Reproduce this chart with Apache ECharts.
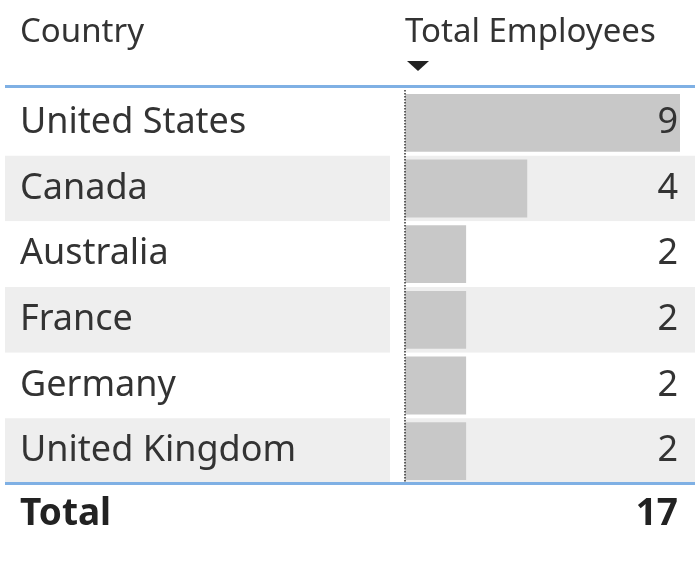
<!DOCTYPE html><html><head><meta charset="utf-8">
<script src="https://cdn.jsdelivr.net/npm/echarts@6/dist/echarts.min.js"></script>
<style>html,body{margin:0;background:#fff}#c{width:700px;height:568px}</style></head><body><div id="c"></div>
<script>
const countries=['United States','Canada','Australia','France','Germany','United Kingdom'];
const employees=[9,4,2,2,2,2];
const totalLabel='Total';
const totalValue=17;
const headers=['Country','Total Employees'];
const F='"Noto Sans","Open Sans",sans-serif';
const chart=echarts.init(document.getElementById('c'));
const unit=275/9;
chart.setOption({
 animation:false,
 grid:{left:5,right:5,top:90,height:394},
 xAxis:{type:'value',min:-400/unit,max:290/unit,show:false},
 yAxis:[
  {type:'category',data:countries,inverse:true,axisLine:{show:false},axisTick:{show:false},
   axisLabel:{inside:true,margin:15,align:'left',fontSize:36,color:'#333',fontFamily:F},
   splitArea:{show:true,areaStyle:{color:['#ffffff','#eeeeee']}}},
  {type:'category',data:employees.map(String),inverse:true,position:'right',z:10,axisLine:{show:false},axisTick:{show:false},
   axisLabel:{inside:true,margin:17,align:'right',fontSize:36,color:'#333',fontFamily:F}}
 ],
 series:[{type:'bar',data:employees,barWidth:'88%',itemStyle:{color:'#c8c8c8'},z:3,
  markLine:{silent:true,symbol:'none',label:{show:false},lineStyle:{type:'dotted',color:'#333',width:1.5},data:[{xAxis:0}]}}],
 graphic:[
  {type:'text',left:20,top:16,style:{text:headers[0],fontSize:33,fill:'#333',fontFamily:F}},
  {type:'text',left:405,top:16,style:{text:headers[1],fontSize:33,fill:'#333',fontFamily:F}},
  {type:'polygon',shape:{points:[[407,61],[429,61],[418,71]]},style:{fill:'#222'}},
  {type:'rect',shape:{x:5,y:85,width:690,height:3},style:{fill:'#7fb0e4'}},
  {type:'rect',shape:{x:390,y:88,width:14,height:396},style:{fill:'#fff'},z:1},
  {type:'rect',shape:{x:5,y:482,width:690,height:3},style:{fill:'#7fb0e4'},z:10},
  {type:'text',left:20,top:496,style:{text:totalLabel,fontSize:37,fontWeight:'bold',fill:'#222',fontFamily:F}},
  {type:'text',right:22,top:496,style:{text:String(totalValue),fontSize:37,fontWeight:'bold',fill:'#222',fontFamily:F}}
 ]
});
</script></body></html>
